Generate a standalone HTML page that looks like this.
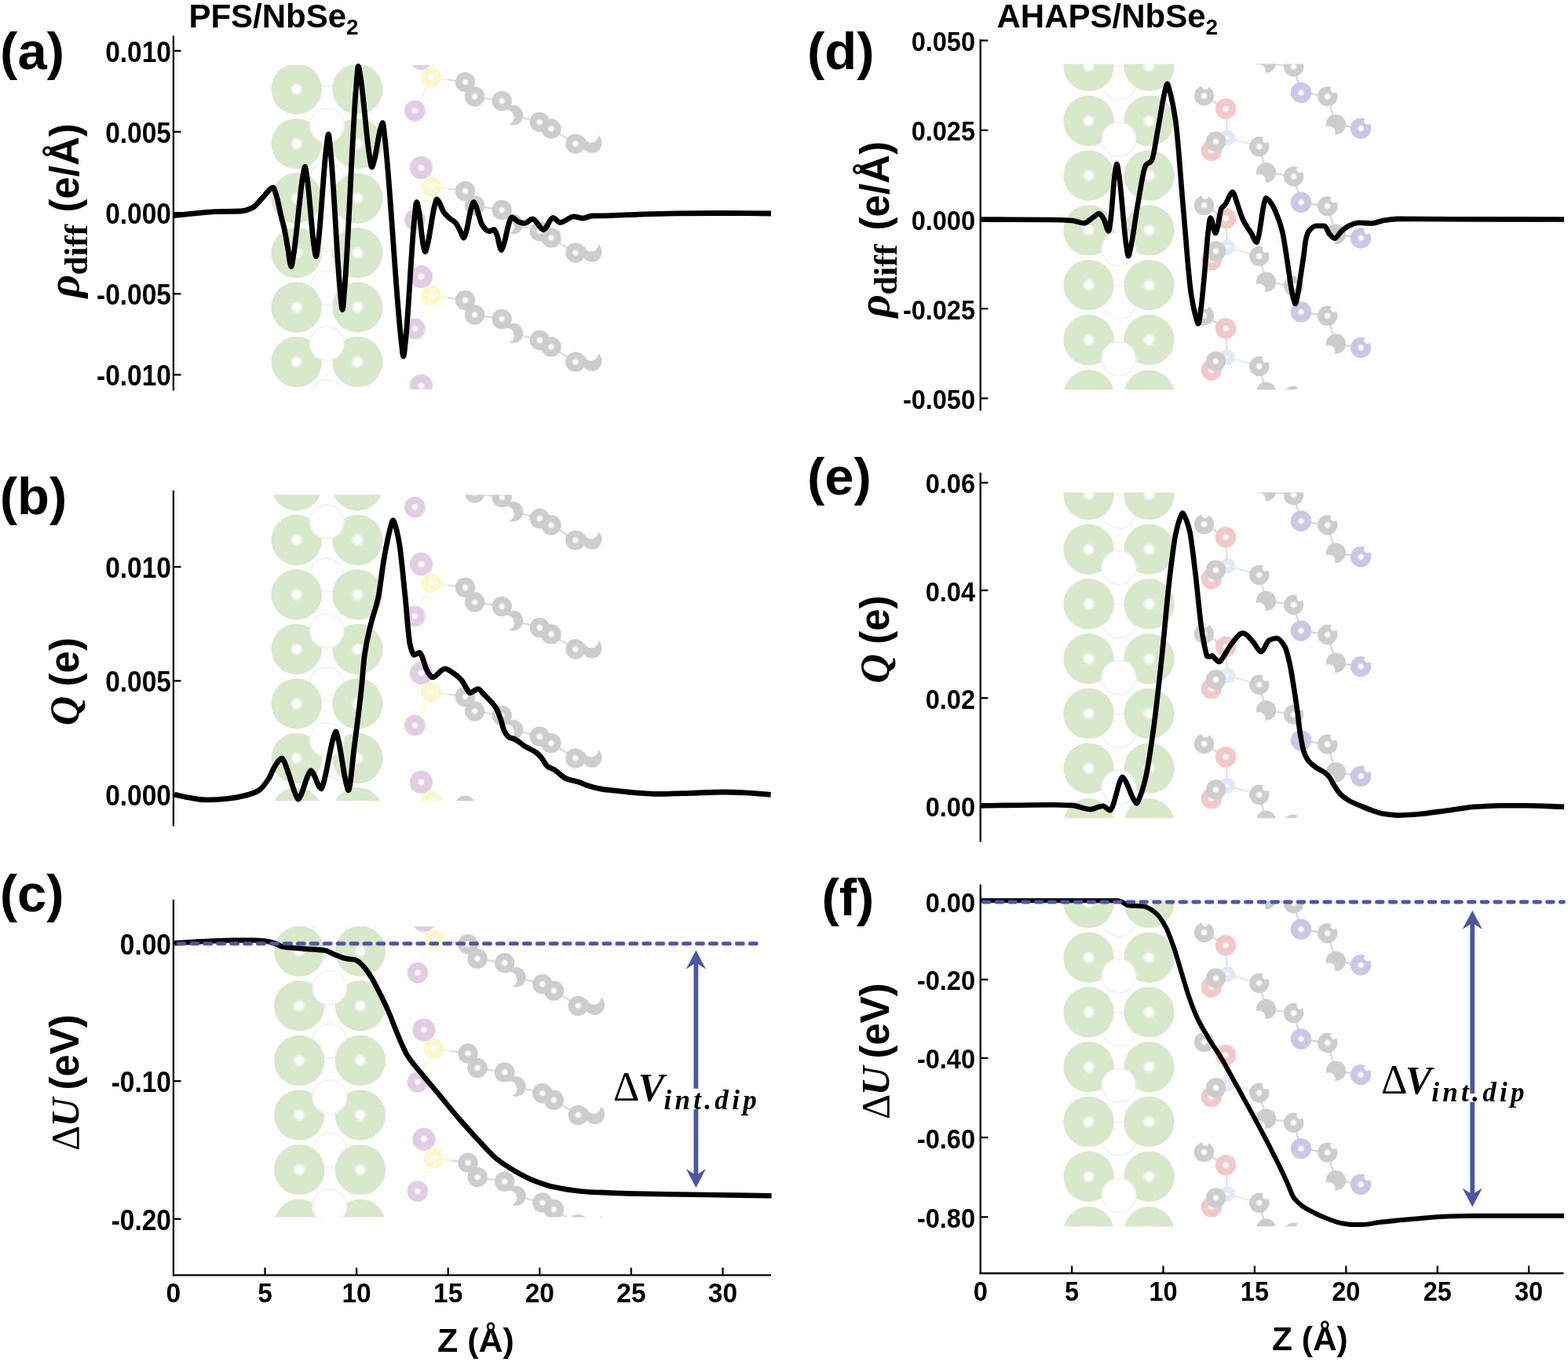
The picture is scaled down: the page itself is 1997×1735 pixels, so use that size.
<!DOCTYPE html>
<html lang="en"><head><meta charset="utf-8"><title>Charge density difference, charge transfer and potential profiles</title>
<style>html,body{margin:0;padding:0;background:#fff;}body{width:1997px;height:1735px;overflow:hidden;}svg{display:block;}</style>
</head><body>
<svg xmlns="http://www.w3.org/2000/svg" width="1997" height="1735" viewBox="0 0 1997 1735">
<rect width="1997" height="1735" fill="#fff"/>
<defs>
<radialGradient id="hl"><stop offset="0" stop-color="#fff" stop-opacity="1"/><stop offset="0.42" stop-color="#fff" stop-opacity="1"/><stop offset="1" stop-color="#fff" stop-opacity="0"/></radialGradient>
<g id="aG"><circle r="32.2" fill="#d8e8ca"/><circle r="8.8" fill="url(#hl)"/></g>
<g id="aP"><circle r="13.3" fill="#e1cee4"/><circle r="5.0" fill="url(#hl)"/></g>
<g id="aP2"><circle r="14.6" fill="#e1cee4"/><circle r="5.2" fill="url(#hl)"/></g>
<g id="aY"><circle r="12.9" fill="#fbf8cb"/><circle r="5.2" fill="url(#hl)"/></g>
<g id="aC"><circle r="12.7" fill="#cdcdcd"/><circle r="5.0" fill="url(#hl)"/></g>
<g id="aR"><circle r="13.2" fill="#f2c9c8"/><circle r="5.0" fill="url(#hl)"/></g>
<g id="aN"><circle r="13.2" fill="#c9c8e6"/><circle r="5.0" fill="url(#hl)"/></g>
<g id="aL"><circle r="10.0" fill="#e2eaf8"/><circle r="3.0" fill="url(#hl)"/></g>
<g id="aW"><circle r="21.6" fill="#fff" stroke="#f4f2f4" stroke-width="1.8"/></g>
<path id="cr4" d="M-11.01,-6.34 A12.7,12.7 0 1 1 -4.72,11.79 A9.6,9.6 0 0 0 -11.01,-6.34 Z" fill="#cdcdcd"/>
<path id="cr8" d="M7.99,-9.87 A12.7,12.7 0 1 1 -9.87,-7.99 A9.0,9.0 0 0 0 7.99,-9.87 Z" fill="#cdcdcd"/>
<path id="crA" d="M-12.36,2.94 A12.7,12.7 0 1 1 -1.38,12.63 A8.0,8.0 0 0 0 -12.36,2.94 Z" fill="#cdcdcd"/>
<path id="crH" d="M11.26,-5.88 A12.7,12.7 0 1 1 4.95,-11.70 A4.3,4.3 0 0 0 11.26,-5.88 Z" fill="#cdcdcd"/>
<path id="crN" d="M11.63,-6.25 A13.2,13.2 0 1 1 5.32,-12.08 A4.3,4.3 0 0 0 11.63,-6.25 Z" fill="#c9c8e6"/>
<g id="aCh"><use href="#crH"/><circle r="5.0" fill="url(#hl)"/></g>
<g id="aNh"><use href="#crN"/><circle r="5.0" fill="url(#hl)"/></g>
<g id="pfsMol">
<line x1="171.4" y1="0" x2="150.7" y2="42.3" stroke="#fbf8cb" stroke-width="2.2" stroke-dasharray="3 1.5"/>
<line x1="171.4" y1="0" x2="193" y2="2.9" stroke="#fbf6c4" stroke-width="2.2"/><line x1="193" y1="2.9" x2="214.8" y2="5.9" stroke="#dcdcdc" stroke-width="2.2"/>
<line x1="226.9" y1="24.4" x2="261.5" y2="29.9" stroke="#dcdcdc" stroke-width="2.4"/>
<line x1="275.9" y1="48" x2="309.6" y2="56.8" stroke="#dcdcdc" stroke-width="2.4"/>
<line x1="324.3" y1="65.3" x2="355.2" y2="84.4" stroke="#dcdcdc" stroke-width="2.4"/>
<use href="#aP2" x="158.7" y="-24"/>
<use href="#aP" x="150.7" y="42.3"/>
<use href="#aY" x="171.4" y="0"/>
<use href="#aC" x="226.9" y="24.4"/>
<use href="#aC" x="214.8" y="5.9"/>
<use href="#cr4" x="275.9" y="48"/>
<use href="#aC" x="261.5" y="29.9"/>
<use href="#aC" x="324.3" y="65.3"/>
<use href="#aC" x="309.6" y="56.8"/>
<use href="#cr8" x="376.2" y="83.5"/>
<use href="#aC" x="355.2" y="84.4"/>
</g>
<g id="ahMol">
<line x1="0" y1="0" x2="27.6" y2="16.5" stroke="#e8d6d6" stroke-width="2.4"/>
<line x1="27.6" y1="16.5" x2="29.7" y2="53.2" stroke="#f3dede" stroke-width="2.4"/>
<line x1="29.7" y1="53.2" x2="70.3" y2="64.7" stroke="#e6ebf5" stroke-width="2.4"/>
<line x1="70.3" y1="64.7" x2="79.1" y2="97.6" stroke="#dcdcdc" stroke-width="2.4"/>
<line x1="79.1" y1="97.6" x2="114.1" y2="102.7" stroke="#dcdcdc" stroke-width="2.4"/>
<line x1="114.1" y1="102.7" x2="123.5" y2="135.7" stroke="#d6d6e6" stroke-width="2.4"/>
<line x1="123.5" y1="135.7" x2="157.2" y2="140.7" stroke="#d6d6e6" stroke-width="2.4"/>
<line x1="157.2" y1="140.7" x2="167.9" y2="176.3" stroke="#dcdcdc" stroke-width="2.4"/>
<line x1="167.9" y1="176.3" x2="199.6" y2="181.3" stroke="#d6d6e6" stroke-width="2.4"/>
<use href="#aR" x="9.4" y="69.7"/>
<use href="#aL" x="29.7" y="53.2"/>
<use href="#aC" x="15" y="58.3"/>
<use href="#aR" x="27.6" y="16.5"/>
<use href="#aCh" x="0" y="0" transform="rotate(-35 0 0)"/>
<use href="#aCh" x="70.3" y="64.7"/>
<use href="#crA" x="79.1" y="97.6"/>
<use href="#aCh" x="114.1" y="102.7"/>
<use href="#aN" x="123.5" y="135.7"/>
<use href="#aCh" x="157.2" y="140.7"/>
<use href="#crA" x="167.9" y="176.3"/>
<use href="#aNh" x="199.6" y="181.3"/>
</g>
</defs>
<clipPath id="clipa"><rect x="343.7" y="83.0" width="430" height="413.0"/></clipPath>
<g clip-path="url(#clipa)">
<use href="#aW" x="416.3" y="88.7"/>
<use href="#aW" x="416.3" y="227.6"/>
<use href="#aW" x="416.3" y="366.5"/>
<use href="#aW" x="416.3" y="505.4"/>
<use href="#aW" x="416.3" y="298.5"/>
<use href="#aG" x="377.7" y="113.6"/>
<use href="#aG" x="455.4" y="113.6"/>
<use href="#aG" x="377.7" y="183.1"/>
<use href="#aG" x="455.4" y="183.1"/>
<use href="#aG" x="377.7" y="252.5"/>
<use href="#aG" x="455.4" y="252.5"/>
<use href="#aG" x="377.7" y="322.0"/>
<use href="#aG" x="455.4" y="322.0"/>
<use href="#aG" x="377.7" y="391.4"/>
<use href="#aG" x="455.4" y="391.4"/>
<use href="#aG" x="377.7" y="460.9"/>
<use href="#aG" x="455.4" y="460.9"/>
<use href="#aG" x="377.7" y="530.3"/>
<use href="#aG" x="455.4" y="530.3"/>
<use href="#aW" x="416.3" y="159.6"/>
<use href="#aW" x="416.3" y="437.4"/>
<use href="#pfsMol" x="377.7" y="98.7"/>
<use href="#pfsMol" x="377.7" y="237.6"/>
<use href="#pfsMol" x="377.7" y="376.5"/>
<use href="#pfsMol" x="377.7" y="515.4"/>
</g>
<clipPath id="clipb"><rect x="343.7" y="630.3" width="430" height="390.0"/></clipPath>
<g clip-path="url(#clipb)">
<use href="#aW" x="416.3" y="732.6"/>
<use href="#aW" x="416.3" y="871.5"/>
<use href="#aW" x="416.3" y="1010.4"/>
<use href="#aG" x="377.7" y="618.6"/>
<use href="#aG" x="455.4" y="618.6"/>
<use href="#aG" x="377.7" y="688.0"/>
<use href="#aG" x="455.4" y="688.0"/>
<use href="#aG" x="377.7" y="757.5"/>
<use href="#aG" x="455.4" y="757.5"/>
<use href="#aG" x="377.7" y="827.0"/>
<use href="#aG" x="455.4" y="827.0"/>
<use href="#aG" x="377.7" y="896.4"/>
<use href="#aG" x="455.4" y="896.4"/>
<use href="#aG" x="377.7" y="965.9"/>
<use href="#aG" x="455.4" y="965.9"/>
<use href="#aG" x="377.7" y="1035.3"/>
<use href="#aG" x="455.4" y="1035.3"/>
<use href="#aW" x="416.3" y="664.6"/>
<use href="#aW" x="416.3" y="803.5"/>
<use href="#aW" x="416.3" y="942.4"/>
<use href="#pfsMol" x="377.7" y="603.7"/>
<use href="#pfsMol" x="377.7" y="742.6"/>
<use href="#pfsMol" x="377.7" y="881.5"/>
<use href="#pfsMol" x="377.7" y="1020.4"/>
</g>
<clipPath id="clipc"><rect x="347.2" y="1180.0" width="430" height="370.4"/></clipPath>
<g clip-path="url(#clipc)">
<use href="#aW" x="419.8" y="1186.8"/>
<use href="#aW" x="419.8" y="1326.0"/>
<use href="#aW" x="419.8" y="1465.2"/>
<use href="#aG" x="381.2" y="1211.7"/>
<use href="#aG" x="458.9" y="1211.7"/>
<use href="#aG" x="381.2" y="1281.3"/>
<use href="#aG" x="458.9" y="1281.3"/>
<use href="#aG" x="381.2" y="1350.9"/>
<use href="#aG" x="458.9" y="1350.9"/>
<use href="#aG" x="381.2" y="1420.5"/>
<use href="#aG" x="458.9" y="1420.5"/>
<use href="#aG" x="381.2" y="1490.1"/>
<use href="#aG" x="458.9" y="1490.1"/>
<use href="#aG" x="381.2" y="1559.7"/>
<use href="#aG" x="458.9" y="1559.7"/>
<use href="#aW" x="419.8" y="1258.0"/>
<use href="#aW" x="419.8" y="1397.2"/>
<use href="#aW" x="419.8" y="1536.4"/>
<use href="#pfsMol" x="381.2" y="1196.8"/>
<use href="#pfsMol" x="381.2" y="1336.0"/>
<use href="#pfsMol" x="381.2" y="1475.2"/>
</g>
<clipPath id="clipd"><rect x="1352.7" y="81.4" width="400" height="415.0"/></clipPath>
<g clip-path="url(#clipd)">
<use href="#aW" x="1425" y="105.6"/>
<use href="#aW" x="1425" y="245.3"/>
<use href="#aW" x="1425" y="385.0"/>
<use href="#aG" x="1386.6" y="84.1"/>
<use href="#aG" x="1463.5" y="84.1"/>
<use href="#aG" x="1386.6" y="153.9"/>
<use href="#aG" x="1463.5" y="153.9"/>
<use href="#aG" x="1386.6" y="223.6"/>
<use href="#aG" x="1463.5" y="223.6"/>
<use href="#aG" x="1386.6" y="293.4"/>
<use href="#aG" x="1463.5" y="293.4"/>
<use href="#aG" x="1386.6" y="363.1"/>
<use href="#aG" x="1463.5" y="363.1"/>
<use href="#aG" x="1386.6" y="432.9"/>
<use href="#aG" x="1463.5" y="432.9"/>
<use href="#aG" x="1386.6" y="503.4"/>
<use href="#aG" x="1463.5" y="503.4"/>
<use href="#aW" x="1425" y="177.4"/>
<use href="#aW" x="1425" y="317.1"/>
<use href="#aW" x="1425" y="457.0"/>
<use href="#ahMol" x="1533.5" y="-17.8"/>
<use href="#ahMol" x="1533.5" y="122.0"/>
<use href="#ahMol" x="1533.5" y="261.6"/>
<use href="#ahMol" x="1533.5" y="401.8"/>
</g>
<clipPath id="clipe"><rect x="1352.7" y="627.2" width="400" height="415.0"/></clipPath>
<g clip-path="url(#clipe)">
<use href="#aW" x="1425" y="651.4"/>
<use href="#aW" x="1425" y="791.1"/>
<use href="#aW" x="1425" y="930.8"/>
<use href="#aG" x="1386.6" y="629.9"/>
<use href="#aG" x="1463.5" y="629.9"/>
<use href="#aG" x="1386.6" y="699.7"/>
<use href="#aG" x="1463.5" y="699.7"/>
<use href="#aG" x="1386.6" y="769.4"/>
<use href="#aG" x="1463.5" y="769.4"/>
<use href="#aG" x="1386.6" y="839.2"/>
<use href="#aG" x="1463.5" y="839.2"/>
<use href="#aG" x="1386.6" y="908.9"/>
<use href="#aG" x="1463.5" y="908.9"/>
<use href="#aG" x="1386.6" y="978.7"/>
<use href="#aG" x="1463.5" y="978.7"/>
<use href="#aG" x="1386.6" y="1049.2"/>
<use href="#aG" x="1463.5" y="1049.2"/>
<use href="#aW" x="1425" y="723.2"/>
<use href="#aW" x="1425" y="862.9"/>
<use href="#aW" x="1425" y="1002.8"/>
<use href="#ahMol" x="1533.5" y="528.0"/>
<use href="#ahMol" x="1533.5" y="667.8"/>
<use href="#ahMol" x="1533.5" y="807.4"/>
<use href="#ahMol" x="1533.5" y="947.6"/>
</g>
<clipPath id="clipf"><rect x="1352.7" y="1147.2" width="400" height="415.0"/></clipPath>
<g clip-path="url(#clipf)">
<use href="#aW" x="1425" y="1171.4"/>
<use href="#aW" x="1425" y="1311.1"/>
<use href="#aW" x="1425" y="1450.8"/>
<use href="#aG" x="1386.6" y="1149.9"/>
<use href="#aG" x="1463.5" y="1149.9"/>
<use href="#aG" x="1386.6" y="1219.7"/>
<use href="#aG" x="1463.5" y="1219.7"/>
<use href="#aG" x="1386.6" y="1289.4"/>
<use href="#aG" x="1463.5" y="1289.4"/>
<use href="#aG" x="1386.6" y="1359.2"/>
<use href="#aG" x="1463.5" y="1359.2"/>
<use href="#aG" x="1386.6" y="1428.9"/>
<use href="#aG" x="1463.5" y="1428.9"/>
<use href="#aG" x="1386.6" y="1498.7"/>
<use href="#aG" x="1463.5" y="1498.7"/>
<use href="#aG" x="1386.6" y="1569.2"/>
<use href="#aG" x="1463.5" y="1569.2"/>
<use href="#aW" x="1425" y="1243.2"/>
<use href="#aW" x="1425" y="1382.9"/>
<use href="#aW" x="1425" y="1522.8"/>
<use href="#ahMol" x="1533.5" y="1048.0"/>
<use href="#ahMol" x="1533.5" y="1187.8"/>
<use href="#ahMol" x="1533.5" y="1327.4"/>
<use href="#ahMol" x="1533.5" y="1467.6"/>
</g>
<line x1="220.9" y1="45.4" x2="220.9" y2="497.4" stroke="#000" stroke-width="2.3" />
<line x1="220.9" y1="64.8" x2="230.5" y2="64.8" stroke="#000" stroke-width="2.3" />
<text transform="translate(218.0,78.7) scale(1.0,1.08)" font-size="33.5" text-anchor="end" font-weight="bold" font-family='"Liberation Sans", Arial, Helvetica, sans-serif' fill="#000" >0.010</text>
<line x1="220.9" y1="167.9" x2="230.5" y2="167.9" stroke="#000" stroke-width="2.3" />
<text transform="translate(218.0,181.8) scale(1.0,1.08)" font-size="33.5" text-anchor="end" font-weight="bold" font-family='"Liberation Sans", Arial, Helvetica, sans-serif' fill="#000" >0.005</text>
<line x1="220.9" y1="271.1" x2="230.5" y2="271.1" stroke="#000" stroke-width="2.3" />
<text transform="translate(218.0,285.0) scale(1.0,1.08)" font-size="33.5" text-anchor="end" font-weight="bold" font-family='"Liberation Sans", Arial, Helvetica, sans-serif' fill="#000" >0.000</text>
<line x1="220.9" y1="374.3" x2="230.5" y2="374.3" stroke="#000" stroke-width="2.3" />
<text transform="translate(218.0,388.2) scale(1.0,1.08)" font-size="33.5" text-anchor="end" font-weight="bold" font-family='"Liberation Sans", Arial, Helvetica, sans-serif' fill="#000" >-0.005</text>
<line x1="220.9" y1="477.4" x2="230.5" y2="477.4" stroke="#000" stroke-width="2.3" />
<text transform="translate(218.0,491.3) scale(1.0,1.08)" font-size="33.5" text-anchor="end" font-weight="bold" font-family='"Liberation Sans", Arial, Helvetica, sans-serif' fill="#000" >-0.010</text>
<line x1="220.9" y1="624.7" x2="220.9" y2="1052.6" stroke="#000" stroke-width="2.3" />
<line x1="220.9" y1="722.1" x2="230.5" y2="722.1" stroke="#000" stroke-width="2.3" />
<text transform="translate(218.0,736.0) scale(1.0,1.08)" font-size="33.5" text-anchor="end" font-weight="bold" font-family='"Liberation Sans", Arial, Helvetica, sans-serif' fill="#000" >0.010</text>
<line x1="220.9" y1="867.3" x2="230.5" y2="867.3" stroke="#000" stroke-width="2.3" />
<text transform="translate(218.0,881.2) scale(1.0,1.08)" font-size="33.5" text-anchor="end" font-weight="bold" font-family='"Liberation Sans", Arial, Helvetica, sans-serif' fill="#000" >0.005</text>
<line x1="220.9" y1="1012.3" x2="230.5" y2="1012.3" stroke="#000" stroke-width="2.3" />
<text transform="translate(218.0,1026.2) scale(1.0,1.08)" font-size="33.5" text-anchor="end" font-weight="bold" font-family='"Liberation Sans", Arial, Helvetica, sans-serif' fill="#000" >0.000</text>
<line x1="220.9" y1="1146.0" x2="220.9" y2="1625.5" stroke="#000" stroke-width="2.3" />
<line x1="220.9" y1="1201.6" x2="230.5" y2="1201.6" stroke="#000" stroke-width="2.3" />
<text transform="translate(218.0,1215.5) scale(1.0,1.08)" font-size="33.5" text-anchor="end" font-weight="bold" font-family='"Liberation Sans", Arial, Helvetica, sans-serif' fill="#000" >0.00</text>
<line x1="220.9" y1="1377.2" x2="230.5" y2="1377.2" stroke="#000" stroke-width="2.3" />
<text transform="translate(218.0,1391.1) scale(1.0,1.08)" font-size="33.5" text-anchor="end" font-weight="bold" font-family='"Liberation Sans", Arial, Helvetica, sans-serif' fill="#000" >-0.10</text>
<line x1="220.9" y1="1552.8" x2="230.5" y2="1552.8" stroke="#000" stroke-width="2.3" />
<text transform="translate(218.0,1566.7) scale(1.0,1.08)" font-size="33.5" text-anchor="end" font-weight="bold" font-family='"Liberation Sans", Arial, Helvetica, sans-serif' fill="#000" >-0.20</text>
<line x1="220.0" y1="1624.3" x2="982.0" y2="1624.3" stroke="#000" stroke-width="2.3" />
<text transform="translate(220.9,1659.3) scale(1.0,1.07)" font-size="33.5" text-anchor="middle" font-weight="bold" font-family='"Liberation Sans", Arial, Helvetica, sans-serif' fill="#000" >0</text>
<line x1="337.5" y1="1624.3" x2="337.5" y2="1614.8" stroke="#000" stroke-width="2.3" />
<text transform="translate(337.5,1659.3) scale(1.0,1.07)" font-size="33.5" text-anchor="middle" font-weight="bold" font-family='"Liberation Sans", Arial, Helvetica, sans-serif' fill="#000" >5</text>
<line x1="454.1" y1="1624.3" x2="454.1" y2="1614.8" stroke="#000" stroke-width="2.3" />
<text transform="translate(454.1,1659.3) scale(1.0,1.07)" font-size="33.5" text-anchor="middle" font-weight="bold" font-family='"Liberation Sans", Arial, Helvetica, sans-serif' fill="#000" >10</text>
<line x1="570.7" y1="1624.3" x2="570.7" y2="1614.8" stroke="#000" stroke-width="2.3" />
<text transform="translate(570.7,1659.3) scale(1.0,1.07)" font-size="33.5" text-anchor="middle" font-weight="bold" font-family='"Liberation Sans", Arial, Helvetica, sans-serif' fill="#000" >15</text>
<line x1="687.3" y1="1624.3" x2="687.3" y2="1614.8" stroke="#000" stroke-width="2.3" />
<text transform="translate(687.3,1659.3) scale(1.0,1.07)" font-size="33.5" text-anchor="middle" font-weight="bold" font-family='"Liberation Sans", Arial, Helvetica, sans-serif' fill="#000" >20</text>
<line x1="803.9" y1="1624.3" x2="803.9" y2="1614.8" stroke="#000" stroke-width="2.3" />
<text transform="translate(803.9,1659.3) scale(1.0,1.07)" font-size="33.5" text-anchor="middle" font-weight="bold" font-family='"Liberation Sans", Arial, Helvetica, sans-serif' fill="#000" >25</text>
<line x1="920.5" y1="1624.3" x2="920.5" y2="1614.8" stroke="#000" stroke-width="2.3" />
<text transform="translate(920.5,1659.3) scale(1.0,1.07)" font-size="33.5" text-anchor="middle" font-weight="bold" font-family='"Liberation Sans", Arial, Helvetica, sans-serif' fill="#000" >30</text>
<line x1="1248.7" y1="50.0" x2="1248.7" y2="523.0" stroke="#000" stroke-width="2.3" />
<line x1="1248.7" y1="51.6" x2="1258.3" y2="51.6" stroke="#000" stroke-width="2.3" />
<text transform="translate(1242.0,65.1) scale(1.0,1.08)" font-size="32.5" text-anchor="end" font-weight="bold" font-family='"Liberation Sans", Arial, Helvetica, sans-serif' fill="#000" >0.050</text>
<line x1="1248.7" y1="165.9" x2="1258.3" y2="165.9" stroke="#000" stroke-width="2.3" />
<text transform="translate(1242.0,179.4) scale(1.0,1.08)" font-size="32.5" text-anchor="end" font-weight="bold" font-family='"Liberation Sans", Arial, Helvetica, sans-serif' fill="#000" >0.025</text>
<line x1="1248.7" y1="279.5" x2="1258.3" y2="279.5" stroke="#000" stroke-width="2.3" />
<text transform="translate(1242.0,293.0) scale(1.0,1.08)" font-size="32.5" text-anchor="end" font-weight="bold" font-family='"Liberation Sans", Arial, Helvetica, sans-serif' fill="#000" >0.000</text>
<line x1="1248.7" y1="393.2" x2="1258.3" y2="393.2" stroke="#000" stroke-width="2.3" />
<text transform="translate(1242.0,406.7) scale(1.0,1.08)" font-size="32.5" text-anchor="end" font-weight="bold" font-family='"Liberation Sans", Arial, Helvetica, sans-serif' fill="#000" >-0.025</text>
<line x1="1248.7" y1="507.4" x2="1258.3" y2="507.4" stroke="#000" stroke-width="2.3" />
<text transform="translate(1242.0,520.9) scale(1.0,1.08)" font-size="32.5" text-anchor="end" font-weight="bold" font-family='"Liberation Sans", Arial, Helvetica, sans-serif' fill="#000" >-0.050</text>
<line x1="1248.7" y1="602.0" x2="1248.7" y2="1072.6" stroke="#000" stroke-width="2.3" />
<line x1="1248.7" y1="614.9" x2="1258.3" y2="614.9" stroke="#000" stroke-width="2.3" />
<text transform="translate(1242.0,628.4) scale(1.0,1.08)" font-size="32.5" text-anchor="end" font-weight="bold" font-family='"Liberation Sans", Arial, Helvetica, sans-serif' fill="#000" >0.06</text>
<line x1="1248.7" y1="752.0" x2="1258.3" y2="752.0" stroke="#000" stroke-width="2.3" />
<text transform="translate(1242.0,765.5) scale(1.0,1.08)" font-size="32.5" text-anchor="end" font-weight="bold" font-family='"Liberation Sans", Arial, Helvetica, sans-serif' fill="#000" >0.04</text>
<line x1="1248.7" y1="889.2" x2="1258.3" y2="889.2" stroke="#000" stroke-width="2.3" />
<text transform="translate(1242.0,902.7) scale(1.0,1.08)" font-size="32.5" text-anchor="end" font-weight="bold" font-family='"Liberation Sans", Arial, Helvetica, sans-serif' fill="#000" >0.02</text>
<line x1="1248.7" y1="1026.4" x2="1258.3" y2="1026.4" stroke="#000" stroke-width="2.3" />
<text transform="translate(1242.0,1039.9) scale(1.0,1.08)" font-size="32.5" text-anchor="end" font-weight="bold" font-family='"Liberation Sans", Arial, Helvetica, sans-serif' fill="#000" >0.00</text>
<line x1="1248.7" y1="1126.8" x2="1248.7" y2="1623.2" stroke="#000" stroke-width="2.3" />
<line x1="1248.7" y1="1148.8" x2="1258.3" y2="1148.8" stroke="#000" stroke-width="2.3" />
<text transform="translate(1242.0,1162.3) scale(1.0,1.08)" font-size="32.5" text-anchor="end" font-weight="bold" font-family='"Liberation Sans", Arial, Helvetica, sans-serif' fill="#000" >0.00</text>
<line x1="1248.7" y1="1247.8" x2="1258.3" y2="1247.8" stroke="#000" stroke-width="2.3" />
<text transform="translate(1242.0,1261.3) scale(1.0,1.08)" font-size="32.5" text-anchor="end" font-weight="bold" font-family='"Liberation Sans", Arial, Helvetica, sans-serif' fill="#000" >-0.20</text>
<line x1="1248.7" y1="1347.9" x2="1258.3" y2="1347.9" stroke="#000" stroke-width="2.3" />
<text transform="translate(1242.0,1361.4) scale(1.0,1.08)" font-size="32.5" text-anchor="end" font-weight="bold" font-family='"Liberation Sans", Arial, Helvetica, sans-serif' fill="#000" >-0.40</text>
<line x1="1248.7" y1="1449.0" x2="1258.3" y2="1449.0" stroke="#000" stroke-width="2.3" />
<text transform="translate(1242.0,1462.5) scale(1.0,1.08)" font-size="32.5" text-anchor="end" font-weight="bold" font-family='"Liberation Sans", Arial, Helvetica, sans-serif' fill="#000" >-0.60</text>
<line x1="1248.7" y1="1550.3" x2="1258.3" y2="1550.3" stroke="#000" stroke-width="2.3" />
<text transform="translate(1242.0,1563.8) scale(1.0,1.08)" font-size="32.5" text-anchor="end" font-weight="bold" font-family='"Liberation Sans", Arial, Helvetica, sans-serif' fill="#000" >-0.80</text>
<line x1="1247.6" y1="1622.0" x2="1991.5" y2="1622.0" stroke="#000" stroke-width="2.3" />
<text transform="translate(1248.7,1657.0) scale(1.0,1.07)" font-size="32.5" text-anchor="middle" font-weight="bold" font-family='"Liberation Sans", Arial, Helvetica, sans-serif' fill="#000" >0</text>
<line x1="1365.1" y1="1622.0" x2="1365.1" y2="1612.5" stroke="#000" stroke-width="2.3" />
<text transform="translate(1365.1,1657.0) scale(1.0,1.07)" font-size="32.5" text-anchor="middle" font-weight="bold" font-family='"Liberation Sans", Arial, Helvetica, sans-serif' fill="#000" >5</text>
<line x1="1481.5" y1="1622.0" x2="1481.5" y2="1612.5" stroke="#000" stroke-width="2.3" />
<text transform="translate(1481.5,1657.0) scale(1.0,1.07)" font-size="32.5" text-anchor="middle" font-weight="bold" font-family='"Liberation Sans", Arial, Helvetica, sans-serif' fill="#000" >10</text>
<line x1="1597.9" y1="1622.0" x2="1597.9" y2="1612.5" stroke="#000" stroke-width="2.3" />
<text transform="translate(1597.9,1657.0) scale(1.0,1.07)" font-size="32.5" text-anchor="middle" font-weight="bold" font-family='"Liberation Sans", Arial, Helvetica, sans-serif' fill="#000" >15</text>
<line x1="1714.3" y1="1622.0" x2="1714.3" y2="1612.5" stroke="#000" stroke-width="2.3" />
<text transform="translate(1714.3,1657.0) scale(1.0,1.07)" font-size="32.5" text-anchor="middle" font-weight="bold" font-family='"Liberation Sans", Arial, Helvetica, sans-serif' fill="#000" >20</text>
<line x1="1830.7" y1="1622.0" x2="1830.7" y2="1612.5" stroke="#000" stroke-width="2.3" />
<text transform="translate(1830.7,1657.0) scale(1.0,1.07)" font-size="32.5" text-anchor="middle" font-weight="bold" font-family='"Liberation Sans", Arial, Helvetica, sans-serif' fill="#000" >25</text>
<line x1="1947.1" y1="1622.0" x2="1947.1" y2="1612.5" stroke="#000" stroke-width="2.3" />
<text transform="translate(1947.1,1657.0) scale(1.0,1.07)" font-size="32.5" text-anchor="middle" font-weight="bold" font-family='"Liberation Sans", Arial, Helvetica, sans-serif' fill="#000" >30</text>
<text x="0.1" y="87.6" font-size="67" text-anchor="start" font-weight="bold" font-family='"Liberation Sans", Arial, Helvetica, sans-serif' fill="#000" >(a)</text>
<text x="-0.3" y="655.1" font-size="67" text-anchor="start" font-weight="bold" font-family='"Liberation Sans", Arial, Helvetica, sans-serif' fill="#000" >(b)</text>
<text x="-0.3" y="1161.4" font-size="67" text-anchor="start" font-weight="bold" font-family='"Liberation Sans", Arial, Helvetica, sans-serif' fill="#000" >(c)</text>
<text x="1028.0" y="87.6" font-size="67" text-anchor="start" font-weight="bold" font-family='"Liberation Sans", Arial, Helvetica, sans-serif' fill="#000" >(d)</text>
<text x="1028.0" y="630.1" font-size="67" text-anchor="start" font-weight="bold" font-family='"Liberation Sans", Arial, Helvetica, sans-serif' fill="#000" >(e)</text>
<text x="1046.5" y="1166.3" font-size="67" text-anchor="start" font-weight="bold" font-family='"Liberation Sans", Arial, Helvetica, sans-serif' fill="#000" >(f)</text>
<text x="240.4" y="34.9" font-size="42" font-weight="bold" font-family='"Liberation Sans", Arial, Helvetica, sans-serif' fill="#000">PFS/NbSe<tspan font-size="28" dy="8.8">2</tspan></text>
<text x="1269.5" y="34.7" font-size="42" font-weight="bold" font-family='"Liberation Sans", Arial, Helvetica, sans-serif' fill="#000">AHAPS/NbSe<tspan font-size="28" dy="8.8">2</tspan></text>
<text x="557.0" y="1722.2" font-size="43" text-anchor="start" font-weight="bold" font-family='"Liberation Sans", Arial, Helvetica, sans-serif' fill="#000" >Z (Å)</text>
<text x="1620.0" y="1720.2" font-size="42.5" text-anchor="start" font-weight="bold" font-family='"Liberation Sans", Arial, Helvetica, sans-serif' fill="#000" >Z (Å)</text>
<text transform="translate(100.0,379.3) rotate(-90)" font-size="57" font-weight="bold" font-style="italic" font-family='"Liberation Serif", "DejaVu Serif", serif' fill="#000" >ρ</text>
<text transform="translate(110.6,350.4) rotate(-90)" font-size="43" font-weight="bold" font-style="normal" font-family='"Liberation Serif", "DejaVu Serif", serif' fill="#000" >diff</text>
<text transform="translate(100.0,270.6) rotate(-90)" font-size="51" font-weight="bold" font-style="normal" font-family='"Liberation Sans", Arial, Helvetica, sans-serif' fill="#000" >(e/Å)</text>
<text transform="translate(1131.6,404.6) rotate(-90)" font-size="57" font-weight="bold" font-style="italic" font-family='"Liberation Serif", "DejaVu Serif", serif' fill="#000" >ρ</text>
<text transform="translate(1142.2,375.7) rotate(-90)" font-size="43" font-weight="bold" font-style="normal" font-family='"Liberation Serif", "DejaVu Serif", serif' fill="#000" >diff</text>
<text transform="translate(1131.6,293.4) rotate(-90)" font-size="51" font-weight="bold" font-style="normal" font-family='"Liberation Sans", Arial, Helvetica, sans-serif' fill="#000" >(e/Å)</text>
<text transform="translate(100.2,924.2) rotate(-90)" font-size="52" font-weight="bold" font-style="italic" font-family='"Liberation Serif", "DejaVu Serif", serif' fill="#000" >Q</text>
<text transform="translate(100.2,874.4) rotate(-90)" font-size="51" font-weight="bold" font-style="normal" font-family='"Liberation Sans", Arial, Helvetica, sans-serif' fill="#000" >(e)</text>
<text transform="translate(1132.0,870.6) rotate(-90)" font-size="52" font-weight="bold" font-style="italic" font-family='"Liberation Serif", "DejaVu Serif", serif' fill="#000" >Q</text>
<text transform="translate(1132.0,820.8) rotate(-90)" font-size="51" font-weight="bold" font-style="normal" font-family='"Liberation Sans", Arial, Helvetica, sans-serif' fill="#000" >(e)</text>
<text transform="translate(100.0,1465.9) rotate(-90)" font-size="50" font-weight="normal" font-style="normal" font-family='"Liberation Serif", "DejaVu Serif", serif' fill="#000" >Δ</text>
<text transform="translate(100.0,1435.6) rotate(-90)" font-size="51" font-weight="bold" font-style="italic" font-family='"Liberation Serif", "DejaVu Serif", serif' fill="#000" >U</text>
<text transform="translate(100.0,1388.6) rotate(-90)" font-size="51" font-weight="bold" font-style="normal" font-family='"Liberation Sans", Arial, Helvetica, sans-serif' fill="#000" >(eV)</text>
<text transform="translate(1131.7,1425.9) rotate(-90)" font-size="50" font-weight="normal" font-style="normal" font-family='"Liberation Serif", "DejaVu Serif", serif' fill="#000" >Δ</text>
<text transform="translate(1131.7,1395.6) rotate(-90)" font-size="51" font-weight="bold" font-style="italic" font-family='"Liberation Serif", "DejaVu Serif", serif' fill="#000" >U</text>
<text transform="translate(1131.7,1348.6) rotate(-90)" font-size="51" font-weight="bold" font-style="normal" font-family='"Liberation Sans", Arial, Helvetica, sans-serif' fill="#000" >(eV)</text>
<path d="M221.0,274.5C230.7,273.6 240.3,272.6 250.0,271.7C258.0,271.0 266.0,269.9 274.0,269.6C284.7,269.3 295.3,269.4 306.0,269.0C311.3,268.8 316.7,266.8 322.0,264.3C326.0,262.4 330.0,256.2 334.0,252.3C338.7,247.8 343.3,239.0 348.0,239.0C348.5,239.0 349.1,240.5 349.6,241.7C350.7,244.0 351.7,248.1 352.8,252.0C354.6,258.6 356.4,268.4 358.2,276.0C359.5,281.6 360.9,285.8 362.2,292.0C363.8,299.6 365.5,309.6 367.1,319.5C367.9,324.5 368.7,331.9 369.6,335.4C370.0,337.1 370.4,339.5 370.8,339.5C371.7,339.5 372.5,332.6 373.4,327.9C377.5,305.3 381.7,246.7 385.8,224.1C386.7,219.4 387.5,212.5 388.4,212.5C389.3,212.5 390.1,220.1 391.0,225.5C394.0,244.2 397.0,295.1 400.0,313.8C400.9,319.2 401.7,326.8 402.6,326.8C403.5,326.8 404.3,317.4 405.2,310.8C408.7,284.2 412.2,213.6 415.7,187.0C416.6,180.4 417.4,171.0 418.3,171.0C419.2,171.0 420.0,183.0 420.9,191.2C425.1,231.2 429.3,334.3 433.5,374.3C434.4,382.5 435.2,394.5 436.1,394.5C437.0,394.5 437.8,379.7 438.7,369.8C443.7,312.2 448.7,166.8 453.7,109.2C454.6,99.3 455.4,84.5 456.3,84.5C457.2,84.5 458.0,91.6 458.9,96.5C462.9,119.2 466.9,178.3 470.9,201.0C471.8,205.9 472.6,213.0 473.5,213.0C474.4,213.0 475.2,209.2 476.1,206.4C479.0,197.3 481.9,172.2 484.8,163.1C485.7,160.3 486.5,156.5 487.4,156.5C488.3,156.5 489.1,167.5 490.0,174.7C497.1,233.4 504.1,377.1 511.2,435.8C512.1,443.0 512.9,454.0 513.8,454.0C514.7,454.0 515.5,442.9 516.4,435.1C520.3,400.7 524.1,310.8 528.0,276.4C528.9,268.6 529.7,257.5 530.6,257.5C531.5,257.5 532.3,262.8 533.2,266.8C535.1,275.7 537.0,302.3 538.9,311.2C539.8,315.2 540.6,320.5 541.5,320.5C542.4,320.5 543.2,316.3 544.1,313.3C547.3,302.2 550.5,272.3 553.7,261.2C554.6,258.2 555.4,254.0 556.3,254.0C557.2,254.0 558.0,255.7 558.9,257.0C560.9,259.9 563.0,267.1 565.0,270.0C567.5,273.6 570.0,275.8 572.5,278.0C575.0,280.2 577.5,280.9 580.0,283.5C582.0,285.6 584.0,289.9 586.0,294.0C587.0,296.1 588.0,299.6 589.1,301.1C589.6,301.9 590.1,303.0 590.6,303.0C591.5,303.0 592.3,299.7 593.2,297.2C595.7,290.2 598.2,270.3 600.7,263.3C601.6,260.8 602.4,257.5 603.3,257.5C604.2,257.5 605.0,260.1 605.9,261.9C608.5,267.3 611.2,281.6 613.8,286.0C615.9,289.5 617.9,292.4 620.0,293.3C621.3,293.9 622.7,294.5 624.0,294.5C625.7,294.5 627.5,292.5 629.2,292.5C629.7,292.5 630.2,293.5 630.6,294.3C631.6,295.7 632.5,298.1 633.5,301.0C634.6,304.2 635.6,311.8 636.7,314.9C637.2,316.4 637.8,318.5 638.3,318.5C639.2,318.5 640.0,315.6 640.9,313.5C643.6,306.9 646.3,288.6 649.0,282.0C649.9,279.9 650.7,277.0 651.6,277.0C654.9,277.0 658.1,282.1 661.4,283.0C663.7,283.6 666.1,284.3 668.4,284.3C671.7,284.3 675.0,279.0 678.3,279.0C683.0,279.0 687.6,292.5 692.3,292.5C693.2,292.5 694.0,291.3 694.9,290.4C697.1,288.2 699.4,281.6 701.6,279.4C702.5,278.5 703.3,277.3 704.2,277.3C707.2,277.3 710.3,283.3 713.3,283.3C719.2,283.3 725.1,275.8 731.0,275.8C734.9,275.8 738.8,278.0 742.7,278.0C746.4,278.0 750.1,275.1 753.8,275.0C759.3,274.9 764.9,274.9 770.4,274.8C780.3,274.6 790.1,273.9 800.0,273.6C820.0,272.9 840.0,272.0 860.0,271.8C880.0,271.6 900.0,271.5 920.0,271.5C940.7,271.5 961.3,271.8 982.0,272.0" fill="none" stroke="#000" stroke-width="6.8" stroke-linejoin="round" stroke-linecap="butt"/>
<path d="M222.0,1012.1C228.0,1013.4 234.0,1015.0 240.0,1016.0C247.3,1017.2 254.7,1018.9 262.0,1018.9C271.3,1018.9 280.7,1018.1 290.0,1017.3C298.1,1016.6 306.1,1015.0 314.2,1012.9C319.5,1011.5 324.9,1009.8 330.2,1006.5C334.2,1004.0 338.2,998.1 342.2,992.0C344.9,987.9 347.5,979.9 350.2,976.0C353.1,971.7 356.1,965.8 359.0,965.8C359.9,965.8 360.7,967.9 361.6,969.5C363.4,972.7 365.2,979.0 367.0,984.0C370.4,993.5 373.8,1006.9 377.2,1013.7C378.1,1015.4 378.9,1018.0 379.8,1018.0C380.7,1018.0 381.5,1015.9 382.4,1014.4C386.1,1008.1 389.7,991.6 393.4,985.3C394.3,983.8 395.1,981.7 396.0,981.7C396.9,981.7 397.7,983.4 398.6,984.6C401.2,988.2 403.9,998.4 406.5,1002.0C407.4,1003.2 408.2,1004.9 409.1,1004.9C410.0,1004.9 410.8,1001.1 411.7,998.5C416.1,985.4 420.6,951.5 425.0,938.4C425.9,935.8 426.7,932.0 427.6,932.0C428.5,932.0 429.3,936.4 430.2,939.4C433.9,952.4 437.6,986.4 441.3,999.4C442.2,1002.4 443.0,1006.8 443.9,1006.8C444.6,1006.8 445.4,1000.9 446.1,996.5C447.6,987.8 449.0,969.3 450.5,957.0C452.2,943.1 453.8,931.6 455.5,918.0C457.1,905.2 458.6,892.8 460.2,878.0C461.6,864.8 463.0,843.6 464.4,833.8C466.9,816.5 469.3,807.3 471.8,796.9C475.2,782.5 478.6,776.4 482.0,760.0C484.2,749.2 486.5,726.8 488.7,714.1C491.8,696.5 494.9,679.7 498.0,669.6C498.9,666.7 499.7,662.6 500.6,662.6C501.5,662.6 502.3,666.0 503.2,668.6C505.0,673.7 506.7,681.6 508.5,691.8C511.0,706.1 513.4,735.2 515.9,758.7C518.0,778.4 520.0,811.1 522.1,820.7C523.2,825.9 524.3,829.1 525.4,831.5C526.0,832.7 526.5,834.3 527.1,834.3C529.6,834.3 532.0,831.4 534.5,831.4C535.4,831.4 536.2,833.7 537.1,835.4C539.1,839.3 541.2,848.7 543.2,852.9C544.8,856.3 546.5,859.1 548.1,860.8C549.0,861.7 549.8,862.9 550.6,862.9C556.0,862.9 561.3,851.8 566.7,851.8C570.6,851.8 574.4,855.6 578.3,858.2C581.4,860.3 584.4,862.5 587.5,866.0C589.1,867.8 590.6,870.8 592.2,873.4C593.6,875.7 595.0,879.1 596.5,880.7C597.2,881.5 597.9,882.6 598.6,882.6C602.0,882.6 605.4,877.6 608.8,877.6C611.3,877.6 613.8,882.1 616.3,884.7C621.6,890.1 626.8,893.9 632.1,902.6C633.8,905.5 635.6,910.4 637.3,915.2C639.1,920.1 640.8,928.9 642.6,932.0C644.7,935.6 646.8,938.3 648.9,939.4C651.0,940.5 653.1,940.6 655.2,941.5C659.8,943.5 664.3,948.1 668.9,950.9C673.4,953.7 678.0,955.0 682.5,958.3C685.0,960.1 687.4,962.8 689.9,965.7C692.4,968.6 694.8,974.4 697.3,976.2C700.1,978.3 702.9,978.8 705.7,980.4C710.9,983.5 716.2,990.0 721.4,992.0C726.7,994.1 731.9,994.5 737.2,996.2C740.7,997.3 744.2,999.3 747.7,1000.4C754.7,1002.6 761.8,1004.6 768.8,1005.6C772.5,1006.1 776.3,1006.4 780.0,1006.8C786.7,1007.5 793.3,1008.4 800.0,1009.0C806.7,1009.6 813.3,1010.3 820.0,1010.6C826.7,1010.9 833.3,1011.3 840.0,1011.3C853.3,1011.3 866.7,1010.7 880.0,1010.3C893.7,1009.9 907.3,1009.0 921.0,1009.0C930.7,1009.0 940.3,1009.4 950.0,1009.8C960.5,1010.2 971.1,1011.5 981.6,1012.3" fill="none" stroke="#000" stroke-width="6.8" stroke-linejoin="round" stroke-linecap="butt"/>
<path d="M222.3,1201.5C236.3,1200.7 250.4,1199.6 264.4,1199.0C276.3,1198.5 288.1,1197.7 300.0,1197.7C306.7,1197.7 313.3,1197.7 320.0,1197.7C326.7,1197.7 333.3,1198.2 340.0,1199.0C343.1,1199.4 346.3,1200.5 349.4,1201.5C353.0,1202.7 356.6,1205.4 360.2,1206.0C367.7,1207.3 375.3,1207.6 382.8,1208.3C392.8,1209.2 402.8,1209.2 412.8,1210.6C417.8,1211.3 422.8,1214.7 427.8,1216.6C431.3,1217.9 434.8,1219.7 438.3,1220.5C440.5,1221.0 442.8,1221.4 445.0,1221.7C447.0,1222.0 449.0,1222.0 451.0,1222.3C453.0,1222.6 455.0,1223.9 457.0,1225.2C458.8,1226.4 460.6,1228.5 462.4,1230.5C465.9,1234.4 469.4,1239.4 472.9,1245.0C476.9,1251.4 480.9,1259.6 484.9,1267.6C488.4,1274.6 491.9,1281.9 495.4,1290.0C498.4,1296.9 501.4,1305.3 504.4,1312.7C506.6,1318.1 508.8,1323.6 511.0,1328.5C513.6,1334.3 516.2,1340.4 518.8,1344.6C524.5,1353.8 530.1,1359.4 535.8,1366.4C543.9,1376.4 551.9,1385.7 560.0,1395.4C568.1,1405.1 576.1,1415.2 584.2,1424.5C592.3,1433.8 600.3,1442.9 608.4,1451.5C616.5,1460.1 624.5,1469.8 632.6,1476.3C640.7,1482.8 648.7,1487.7 656.8,1492.3C664.9,1496.9 672.9,1501.3 681.0,1504.4C689.1,1507.5 697.1,1510.4 705.2,1512.1C717.3,1514.7 729.4,1516.8 741.5,1517.7C753.6,1518.6 765.7,1519.1 777.8,1519.6C785.2,1519.9 792.6,1520.2 800.0,1520.4C833.3,1521.2 866.7,1521.5 900.0,1522.0C927.5,1522.4 955.1,1522.9 982.6,1523.3" fill="none" stroke="#000" stroke-width="6.6" stroke-linejoin="round" stroke-linecap="butt"/>
<path d="M1249.0,279.5C1279.3,279.7 1309.7,279.7 1340.0,280.0C1348.5,280.1 1356.9,280.4 1365.4,281.0C1370.5,281.4 1375.5,284.3 1380.6,284.3C1384.0,284.3 1387.3,280.1 1390.7,278.0C1393.8,276.0 1397.0,272.1 1400.1,272.1C1400.8,272.1 1401.5,273.1 1402.2,273.8C1403.6,275.3 1405.0,277.5 1406.4,280.5C1407.6,283.0 1408.8,289.1 1410.0,291.5C1410.6,292.7 1411.2,294.4 1411.8,294.4C1412.7,294.4 1413.5,287.1 1414.4,281.4C1416.2,269.6 1418.0,233.8 1419.8,222.0C1420.7,216.3 1421.5,209.0 1422.4,209.0C1423.3,209.0 1424.1,216.5 1425.0,221.8C1428.2,241.3 1431.3,293.8 1434.5,313.3C1435.4,318.6 1436.2,326.1 1437.1,326.1C1438.0,326.1 1438.8,320.8 1439.7,317.2C1442.8,304.3 1446.0,277.2 1449.1,260.2C1452.5,241.9 1455.8,215.5 1459.2,210.8C1461.7,207.3 1464.3,208.1 1466.8,204.4C1469.3,200.7 1471.9,179.5 1474.4,166.4C1477.6,149.8 1480.8,126.5 1484.0,114.7C1484.9,111.5 1485.7,106.8 1486.6,106.8C1487.5,106.8 1488.3,111.0 1489.2,113.9C1491.9,122.9 1494.5,135.5 1497.2,153.7C1500.5,176.5 1503.9,230.7 1507.2,267.8C1510.5,304.2 1513.7,353.2 1517.0,374.3C1519.2,388.5 1521.4,398.7 1523.6,405.7C1524.5,408.5 1525.3,412.4 1526.2,412.4C1527.1,412.4 1527.9,404.8 1528.8,399.3C1530.5,388.2 1532.3,367.1 1534.0,349.0C1535.7,331.6 1537.3,304.8 1539.0,292.3C1539.8,286.0 1540.7,277.5 1541.5,277.5C1542.2,277.5 1542.9,279.5 1543.7,281.5C1544.4,283.5 1545.1,291.0 1545.8,293.0C1546.6,295.0 1547.3,297.0 1548.0,297.0C1548.8,297.0 1549.7,293.2 1550.5,290.4C1552.2,284.9 1553.9,268.2 1555.6,265.3C1557.3,262.5 1558.9,262.4 1560.6,260.2C1562.8,257.3 1565.0,250.1 1567.2,247.3C1568.1,246.1 1568.9,244.5 1569.8,244.5C1570.5,244.5 1571.2,246.3 1571.9,247.7C1573.2,250.4 1574.6,256.0 1576.0,260.0C1578.2,266.3 1580.3,273.8 1582.5,278.6C1584.7,283.4 1586.8,286.8 1589.0,290.3C1590.7,293.1 1592.5,295.0 1594.2,298.0C1595.6,300.4 1596.9,304.7 1598.3,306.6C1598.9,307.5 1599.6,308.8 1600.3,308.8C1601.2,308.8 1602.0,304.5 1602.9,301.3C1605.2,292.7 1607.5,268.4 1609.8,259.8C1610.7,256.6 1611.5,252.3 1612.4,252.3C1614.6,252.3 1616.8,256.0 1619.0,259.0C1622.0,263.1 1625.1,270.6 1628.1,278.6C1629.8,283.2 1631.6,288.2 1633.3,295.5C1634.6,300.9 1635.9,309.7 1637.2,317.7C1638.5,325.7 1639.8,335.0 1641.1,343.7C1642.4,352.4 1643.7,362.8 1645.0,369.7C1646.0,375.1 1647.0,380.4 1648.1,383.4C1648.6,384.9 1649.1,387.0 1649.6,387.0C1650.4,387.0 1651.2,382.6 1652.0,379.4C1653.5,373.0 1655.1,360.3 1656.7,350.2C1658.0,341.9 1659.3,333.4 1660.6,324.2C1661.5,318.0 1662.3,308.1 1663.2,304.6C1664.5,299.3 1665.8,295.8 1667.1,294.2C1670.2,290.5 1673.2,287.7 1676.3,287.7C1679.8,287.7 1683.2,287.7 1686.7,287.7C1688.9,287.7 1691.0,295.7 1693.2,298.1C1695.4,300.5 1697.5,303.6 1699.7,303.6C1702.7,303.6 1705.8,296.8 1708.8,294.2C1711.8,291.6 1714.9,289.0 1717.9,287.7C1722.2,285.8 1726.6,283.8 1730.9,283.8C1736.1,283.8 1741.4,284.5 1746.6,284.5C1751.4,284.5 1756.1,282.0 1760.9,281.2C1767.3,280.2 1773.6,278.9 1780.0,278.9C1803.3,278.9 1826.7,279.2 1850.0,279.3C1897.3,279.4 1944.7,279.4 1992.0,279.5" fill="none" stroke="#000" stroke-width="6.6" stroke-linejoin="round" stroke-linecap="butt"/>
<path d="M1249.0,1026.4C1279.3,1026.0 1309.7,1025.2 1340.0,1025.2C1348.5,1025.2 1356.9,1025.5 1365.4,1025.9C1373.0,1026.3 1380.6,1031.0 1388.2,1031.0C1393.7,1031.0 1399.2,1026.7 1404.7,1026.7C1407.8,1026.7 1411.0,1032.3 1414.1,1032.3C1415.0,1032.3 1415.8,1029.7 1416.7,1027.8C1420.1,1020.6 1423.5,1001.4 1426.9,994.2C1427.8,992.3 1428.6,989.7 1429.5,989.7C1430.4,989.7 1431.2,991.5 1432.1,992.7C1436.4,998.8 1440.7,1014.3 1445.0,1020.4C1445.9,1021.6 1446.7,1023.4 1447.6,1023.4C1448.5,1023.4 1449.3,1020.7 1450.2,1018.8C1453.2,1012.4 1456.2,1002.9 1459.2,990.4C1462.6,976.3 1465.9,951.5 1469.3,927.0C1472.7,902.2 1476.1,870.0 1479.5,838.3C1482.9,806.9 1486.2,765.2 1489.6,736.8C1492.1,715.5 1494.7,693.0 1497.2,681.0C1499.3,671.0 1501.4,663.6 1503.5,658.6C1504.4,656.5 1505.2,653.6 1506.1,653.6C1507.0,653.6 1507.8,656.0 1508.7,657.6C1510.8,661.7 1512.9,667.3 1515.0,675.9C1517.5,686.3 1520.1,711.2 1522.6,731.7C1525.1,752.2 1527.7,783.1 1530.2,800.2C1531.9,811.5 1533.5,821.1 1535.2,828.0C1536.0,831.3 1536.8,836.3 1537.6,836.3C1538.7,836.4 1539.9,836.4 1541.0,836.4C1541.9,836.4 1542.9,835.4 1543.8,835.4C1545.0,835.4 1546.3,837.9 1547.5,839.0C1549.2,840.5 1551.0,843.0 1552.7,843.0C1553.6,843.0 1554.4,841.6 1555.3,840.7C1559.6,836.0 1564.0,825.7 1568.3,820.5C1573.1,814.7 1577.9,806.5 1582.7,806.5C1587.2,806.5 1591.7,813.1 1596.2,818.0C1598.6,820.6 1601.0,826.0 1603.4,828.3C1604.3,829.1 1605.1,830.3 1606.0,830.3C1606.9,830.3 1607.7,828.9 1608.6,828.0C1611.2,825.1 1613.8,816.6 1616.4,815.4C1619.6,814.0 1622.8,813.0 1626.0,813.0C1629.5,813.0 1633.0,818.1 1636.5,824.0C1638.5,827.4 1640.5,836.2 1642.5,845.0C1644.2,852.6 1646.0,864.2 1647.7,874.9C1649.2,884.2 1650.7,894.0 1652.2,904.9C1653.5,914.1 1654.7,927.1 1656.0,934.9C1657.5,944.1 1659.0,953.1 1660.5,957.4C1662.5,963.2 1664.5,966.8 1666.5,969.3C1670.0,973.6 1673.4,975.9 1676.9,978.3C1680.4,980.7 1683.9,981.7 1687.4,984.3C1689.4,985.8 1691.4,987.8 1693.4,990.3C1695.4,992.8 1697.4,997.7 1699.4,1000.8C1701.9,1004.7 1704.4,1008.8 1706.9,1011.3C1710.4,1014.9 1713.9,1017.5 1717.4,1019.5C1722.4,1022.4 1727.4,1024.2 1732.4,1026.3C1737.4,1028.4 1742.4,1030.6 1747.4,1032.3C1752.4,1034.0 1757.4,1036.0 1762.4,1036.8C1768.3,1037.7 1774.1,1038.6 1780.0,1038.6C1786.6,1038.6 1793.2,1038.2 1799.8,1037.8C1804.1,1037.5 1808.3,1037.0 1812.6,1036.5C1823.5,1035.3 1834.3,1033.6 1845.2,1032.2C1856.1,1030.8 1866.9,1028.6 1877.8,1027.8C1888.7,1027.0 1899.5,1026.2 1910.4,1026.2C1921.3,1026.2 1932.1,1026.2 1943.0,1026.2C1959.3,1026.2 1975.7,1027.3 1992.0,1027.8" fill="none" stroke="#000" stroke-width="6.6" stroke-linejoin="round" stroke-linecap="butt"/>
<path d="M1249.0,1147.3C1279.3,1147.3 1309.7,1147.3 1340.0,1147.3C1367.9,1147.3 1395.8,1147.3 1423.7,1147.3C1425.8,1147.3 1427.9,1148.6 1430.0,1149.5C1432.1,1150.4 1434.3,1153.0 1436.4,1153.3C1443.2,1154.2 1449.9,1153.8 1456.7,1154.6C1461.8,1155.2 1466.8,1158.9 1471.9,1163.0C1476.1,1166.4 1480.4,1173.0 1484.6,1180.7C1488.0,1186.8 1491.3,1196.5 1494.7,1206.1C1498.1,1215.7 1501.4,1228.2 1504.8,1239.1C1508.2,1250.1 1511.6,1262.4 1515.0,1272.0C1518.4,1281.5 1521.7,1290.3 1525.1,1297.4C1529.3,1306.3 1533.6,1313.1 1537.8,1320.2C1543.7,1330.2 1549.7,1338.2 1555.6,1348.1C1561.5,1358.0 1567.4,1369.2 1573.3,1379.8C1580.1,1392.0 1586.8,1404.1 1593.6,1416.6C1600.4,1429.1 1607.1,1441.5 1613.9,1454.6C1619.8,1466.1 1625.8,1477.7 1631.7,1490.1C1634.5,1495.9 1637.2,1501.8 1640.0,1508.0C1642.5,1513.6 1645.0,1521.6 1647.5,1525.3C1649.3,1528.0 1651.2,1529.7 1653.0,1531.5C1654.8,1533.3 1656.7,1535.0 1658.5,1536.3C1663.6,1539.9 1668.7,1542.5 1673.8,1545.0C1679.6,1547.9 1685.5,1550.6 1691.3,1552.7C1697.1,1554.8 1703.0,1557.1 1708.8,1558.2C1713.2,1559.0 1717.5,1559.9 1721.9,1559.9C1726.3,1559.9 1730.6,1559.9 1735.0,1559.9C1742.3,1559.9 1749.6,1557.9 1756.9,1557.1C1771.5,1555.4 1786.1,1554.0 1800.7,1552.7C1815.3,1551.4 1829.9,1549.8 1844.5,1549.4C1855.4,1549.1 1866.4,1548.8 1877.3,1548.8C1915.5,1548.8 1953.8,1548.8 1992.0,1548.8" fill="none" stroke="#000" stroke-width="6.0" stroke-linejoin="round" stroke-linecap="butt"/>
<line x1="226.9" y1="1201.9" x2="969.0" y2="1201.9" stroke="#4b56a6" stroke-width="5.0" stroke-dasharray="7.9 9.04" stroke-linecap="round"/>
<line x1="1252.5" y1="1149.0" x2="1991.5" y2="1149.0" stroke="#4b56a6" stroke-width="4.8" stroke-dasharray="7.6 9.1" stroke-linecap="round"/>
<line x1="886.4" y1="1220.6" x2="886.4" y2="1386.8" stroke="#4b56a6" stroke-width="5.8" />
<line x1="886.4" y1="1413.1" x2="886.4" y2="1503.0" stroke="#4b56a6" stroke-width="5.8" />
<path d="M886.4,1210.6 L899.0,1234.6 L886.4,1226.6 L873.8,1234.6 Z" fill="#4b56a6"/>
<path d="M886.4,1513 L899.0,1489 L886.4,1497 L873.8,1489 Z" fill="#4b56a6"/>
<line x1="1875.2" y1="1169.8" x2="1875.2" y2="1393.0" stroke="#4b56a6" stroke-width="5.8" />
<line x1="1875.2" y1="1403.7" x2="1875.2" y2="1527.6" stroke="#4b56a6" stroke-width="5.8" />
<path d="M1875.2,1159.8 L1887.8,1183.8 L1875.2,1175.8 L1862.6000000000001,1183.8 Z" fill="#4b56a6"/>
<path d="M1875.2,1537.6 L1887.8,1513.6 L1875.2,1521.6 L1862.6000000000001,1513.6 Z" fill="#4b56a6"/>
<text x="780.9" y="1402.2" font-size="52" font-family='"Liberation Serif", "DejaVu Serif", serif' fill="#000">Δ</text>
<text x="812.8" y="1402.2" font-size="50" font-weight="bold" font-style="italic" font-family='"Liberation Serif", "DejaVu Serif", serif' fill="#000">V</text>
<text x="845.5" y="1412.7" font-size="35" font-weight="bold" font-style="italic" letter-spacing="4.3" font-family='"Liberation Serif", "DejaVu Serif", serif' fill="#000">int.dip</text>
<text x="1759.1" y="1392.5" font-size="52" font-family='"Liberation Serif", "DejaVu Serif", serif' fill="#000">Δ</text>
<text x="1790.0" y="1392.5" font-size="50" font-weight="bold" font-style="italic" font-family='"Liberation Serif", "DejaVu Serif", serif' fill="#000">V</text>
<text x="1823.3" y="1402.6" font-size="35" font-weight="bold" font-style="italic" letter-spacing="4.3" font-family='"Liberation Serif", "DejaVu Serif", serif' fill="#000">int.dip</text>
</svg></body></html>
